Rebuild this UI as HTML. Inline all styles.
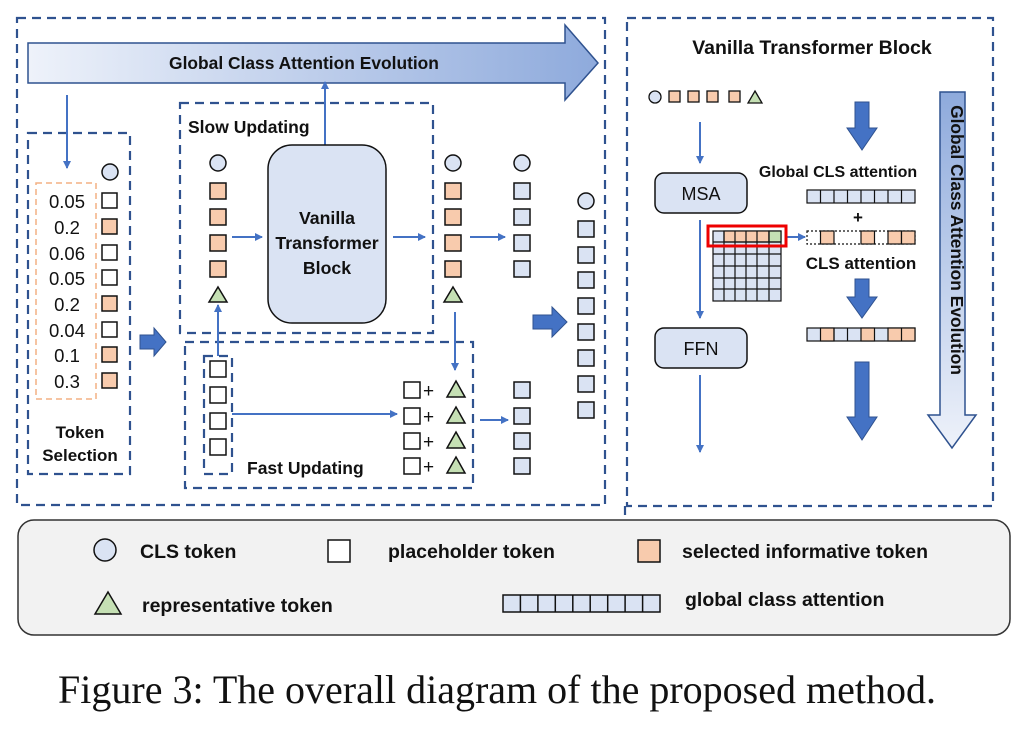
<!DOCTYPE html>
<html><head><meta charset="utf-8"><style>
body{margin:0;background:#fff;width:1024px;height:727px;overflow:hidden}
text{font-family:"Liberation Sans",sans-serif;font-weight:bold;fill:#111}
</style></head><body>
<svg width="1024" height="727" viewBox="0 0 1024 727" xmlns="http://www.w3.org/2000/svg">
<defs>
<linearGradient id="g1" x1="0" x2="1"><stop offset="0" stop-color="#eef2fa"/><stop offset="1" stop-color="#8eaadc"/></linearGradient>
<linearGradient id="g2" x1="0" y1="0" x2="0" y2="1"><stop offset="0" stop-color="#8eaadc"/><stop offset="1" stop-color="#eef2fa"/></linearGradient>
<marker id="ah" markerWidth="8" markerHeight="8" refX="7" refY="4" orient="auto" markerUnits="userSpaceOnUse"><path d="M0,0 L8,4 L0,8 z" fill="#4472c4"/></marker>
</defs>
<g fill="none" stroke="#2f528f" stroke-width="2.2" stroke-dasharray="9,6">
<rect x="17" y="18" width="588" height="487"/>
<rect x="627" y="18" width="366" height="488"/>
<rect x="28" y="133" width="102" height="341"/>
<rect x="180" y="103" width="253" height="230"/>
<rect x="185" y="342" width="288" height="146"/>
<rect x="204" y="356" width="28" height="118"/>
</g>
<line x1="625" y1="506" x2="625" y2="520" stroke="#2f528f" stroke-width="2.2" stroke-dasharray="9,6"/>
<rect x="36" y="183" width="60" height="216" fill="none" stroke="#f4b183" stroke-width="1.5" stroke-dasharray="6,4"/>
<path d="M28,43 L565,43 L565,25 L598,63 L565,100 L565,83 L28,83 z" fill="url(#g1)" stroke="#2f528f" stroke-width="1.5"/>
<text x="304" y="69" font-size="17.4" text-anchor="middle">Global Class Attention Evolution</text>
<g stroke="#4472c4" stroke-width="2" fill="none" marker-end="url(#ah)">
<line x1="67" y1="95" x2="67" y2="168"/>
<line x1="325" y1="145" x2="325" y2="82"/>
<line x1="232" y1="237" x2="262" y2="237"/>
<line x1="393" y1="237" x2="425" y2="237"/>
<line x1="470" y1="237" x2="505" y2="237"/>
<line x1="218" y1="356" x2="218" y2="305"/>
<polyline points="232,414 397,414"/>
<line x1="455" y1="312" x2="455" y2="370"/>
<line x1="480" y1="420" x2="508" y2="420"/>
<line x1="700" y1="122" x2="700" y2="163"/>
<line x1="700" y1="220" x2="700" y2="318"/>
<line x1="700" y1="375" x2="700" y2="452"/>
<line x1="787" y1="237" x2="805" y2="237"/>
</g>
<g fill="#4472c4" stroke="#2f528f" stroke-width="1">
<path d="M140,335 L154,335 L154,328 L166,342 L154,356 L154,349 L140,349 z"/>
<path d="M533,315 L552,315 L552,307 L567,322 L552,337 L552,329 L533,329 z"/>
<path d="M855,102 L869,102 L869,128 L877,128 L862,150 L847,128 L855,128 z"/>
<path d="M855,279 L869,279 L869,297 L877,297 L862,318 L847,297 L855,297 z"/>
<path d="M855,362 L869,362 L869,417 L877,417 L862,440 L847,417 L855,417 z"/>
</g>
<path d="M940,92 L965,92 L965,415 L976,415 L952,448 L928,415 L940,415 z" fill="url(#g2)" stroke="#2f528f" stroke-width="1.5"/>
<text transform="translate(951,240) rotate(90)" font-size="17.4" text-anchor="middle">Global Class Attention Evolution</text>
<g stroke="#111" stroke-width="1.5">
<circle cx="110" cy="172" r="8" fill="#dae3f3"/>
<rect x="102" y="193" width="15" height="15" fill="#fff"/>
<rect x="102" y="219" width="15" height="15" fill="#f8cbad"/>
<rect x="102" y="245" width="15" height="15" fill="#fff"/>
<rect x="102" y="270" width="15" height="15" fill="#fff"/>
<rect x="102" y="296" width="15" height="15" fill="#f8cbad"/>
<rect x="102" y="322" width="15" height="15" fill="#fff"/>
<rect x="102" y="347" width="15" height="15" fill="#f8cbad"/>
<rect x="102" y="373" width="15" height="15" fill="#f8cbad"/>
</g>
<g font-size="18.5" text-anchor="middle">
<text x="67" y="208" style="font-weight:normal">0.05</text>
<text x="67" y="234" style="font-weight:normal">0.2</text>
<text x="67" y="260" style="font-weight:normal">0.06</text>
<text x="67" y="285" style="font-weight:normal">0.05</text>
<text x="67" y="311" style="font-weight:normal">0.2</text>
<text x="67" y="337" style="font-weight:normal">0.04</text>
<text x="67" y="362" style="font-weight:normal">0.1</text>
<text x="67" y="388" style="font-weight:normal">0.3</text>
</g>
<text x="80" y="438" font-size="17" text-anchor="middle">Token</text>
<text x="80" y="461" font-size="17" text-anchor="middle">Selection</text>
<text x="188" y="133" font-size="17.5">Slow Updating</text>
<text x="247" y="474" font-size="17.5">Fast Updating</text>
<rect x="268" y="145" width="118" height="178" rx="24" fill="#dae3f3" stroke="#111" stroke-width="1.5"/>
<text x="327" y="224" font-size="17.7" text-anchor="middle">Vanilla</text>
<text x="327" y="249" font-size="17.7" text-anchor="middle">Transformer</text>
<text x="327" y="274" font-size="17.7" text-anchor="middle">Block</text>
<g stroke="#111" stroke-width="1.5">
<circle cx="218" cy="163" r="8" fill="#dae3f3"/>
<rect x="210" y="183" width="16" height="16" fill="#f8cbad"/>
<rect x="210" y="209" width="16" height="16" fill="#f8cbad"/>
<rect x="210" y="235" width="16" height="16" fill="#f8cbad"/>
<rect x="210" y="261" width="16" height="16" fill="#f8cbad"/>
<path d="M218,287 L227,302 L209,302 z" fill="#c5e0b4"/>
<circle cx="453" cy="163" r="8" fill="#dae3f3"/>
<rect x="445" y="183" width="16" height="16" fill="#f8cbad"/>
<rect x="445" y="209" width="16" height="16" fill="#f8cbad"/>
<rect x="445" y="235" width="16" height="16" fill="#f8cbad"/>
<rect x="445" y="261" width="16" height="16" fill="#f8cbad"/>
<path d="M453,287 L462,302 L444,302 z" fill="#c5e0b4"/>
<circle cx="522" cy="163" r="8" fill="#dae3f3"/>
<rect x="514" y="183" width="16" height="16" fill="#dae3f3"/>
<rect x="514" y="209" width="16" height="16" fill="#dae3f3"/>
<rect x="514" y="235" width="16" height="16" fill="#dae3f3"/>
<rect x="514" y="261" width="16" height="16" fill="#dae3f3"/>
<rect x="210" y="361" width="16" height="16" fill="#fff"/>
<rect x="210" y="387" width="16" height="16" fill="#fff"/>
<rect x="210" y="413" width="16" height="16" fill="#fff"/>
<rect x="210" y="439" width="16" height="16" fill="#fff"/>
<rect x="404" y="382" width="16" height="16" fill="#fff"/>
<rect x="404" y="408" width="16" height="16" fill="#fff"/>
<rect x="404" y="433" width="16" height="16" fill="#fff"/>
<rect x="404" y="458" width="16" height="16" fill="#fff"/>
<path d="M456,381 L465,397 L447,397 z" fill="#c5e0b4"/>
<path d="M456,407 L465,423 L447,423 z" fill="#c5e0b4"/>
<path d="M456,432 L465,448 L447,448 z" fill="#c5e0b4"/>
<path d="M456,457 L465,473 L447,473 z" fill="#c5e0b4"/>
<rect x="514" y="382" width="16" height="16" fill="#dae3f3"/>
<rect x="514" y="408" width="16" height="16" fill="#dae3f3"/>
<rect x="514" y="433" width="16" height="16" fill="#dae3f3"/>
<rect x="514" y="458" width="16" height="16" fill="#dae3f3"/>
<circle cx="586" cy="201" r="8" fill="#dae3f3"/>
<rect x="578" y="221" width="16" height="16" fill="#dae3f3"/>
<rect x="578" y="247" width="16" height="16" fill="#dae3f3"/>
<rect x="578" y="272" width="16" height="16" fill="#dae3f3"/>
<rect x="578" y="298" width="16" height="16" fill="#dae3f3"/>
<rect x="578" y="324" width="16" height="16" fill="#dae3f3"/>
<rect x="578" y="350" width="16" height="16" fill="#dae3f3"/>
<rect x="578" y="376" width="16" height="16" fill="#dae3f3"/>
<rect x="578" y="402" width="16" height="16" fill="#dae3f3"/>
</g>
<g font-size="19">
<text x="423" y="397" style="font-weight:normal">+</text>
<text x="423" y="423" style="font-weight:normal">+</text>
<text x="423" y="448" style="font-weight:normal">+</text>
<text x="423" y="473" style="font-weight:normal">+</text>
</g>
<text x="812" y="54" font-size="19.5" text-anchor="middle">Vanilla Transformer Block</text>
<g stroke="#111" stroke-width="1.3">
<circle cx="655" cy="97" r="6" fill="#dae3f3"/>
<rect x="669" y="91" width="11" height="11" fill="#f8cbad"/>
<rect x="688" y="91" width="11" height="11" fill="#f8cbad"/>
<rect x="707" y="91" width="11" height="11" fill="#f8cbad"/>
<rect x="729" y="91" width="11" height="11" fill="#f8cbad"/>
<path d="M755,91 L762,103 L748,103 z" fill="#c5e0b4"/>
</g>
<rect x="655" y="173" width="92" height="40" rx="9" fill="#dae3f3" stroke="#111" stroke-width="1.5"/>
<text x="701" y="200" font-size="18" text-anchor="middle" style="font-weight:normal">MSA</text>
<rect x="655" y="328" width="92" height="40" rx="9" fill="#dae3f3" stroke="#111" stroke-width="1.5"/>
<text x="701" y="355" font-size="18" text-anchor="middle" style="font-weight:normal">FFN</text>
<g stroke="#111" stroke-width="1.2">
<rect x="713" y="231" width="68" height="70" fill="#dae3f3"/>
<rect x="724" y="231" width="45" height="11" fill="#f8cbad"/>
<rect x="769" y="231" width="12" height="11" fill="#c5e0b4"/>
<path d="M724,231V301M735,231V301M746,231V301M757,231V301M769,231V301M713,242H781M713,254H781M713,266H781M713,278H781M713,289H781" fill="none"/>
</g>
<rect x="708" y="226" width="78" height="20" fill="none" stroke="#e00" stroke-width="3"/>
<text x="838" y="177" font-size="16" text-anchor="middle">Global CLS attention</text>
<text x="858" y="223" font-size="17" text-anchor="middle">+</text>
<text x="861" y="269" font-size="17" text-anchor="middle">CLS attention</text>
<g stroke="#111" stroke-width="1.2">
<rect x="807" y="190" width="108" height="13" fill="#dae3f3"/>
<path d="M820.5,190V203M834,190V203M847.5,190V203M861,190V203M874.5,190V203M888,190V203M901.5,190V203" fill="none"/>
<rect x="807" y="328" width="108" height="13" fill="#dae3f3"/>
<rect x="820.5" y="328" width="13.5" height="13" fill="#f8cbad"/>
<rect x="861" y="328" width="13.5" height="13" fill="#f8cbad"/>
<rect x="888" y="328" width="27" height="13" fill="#f8cbad"/>
<path d="M834,328V341M847.5,328V341M901.5,328V341" fill="none"/>
<rect x="807" y="231" width="108" height="13" fill="none" stroke-dasharray="2,2"/>
<rect x="820.5" y="231" width="13.5" height="13" fill="#f8cbad"/>
<rect x="861" y="231" width="13.5" height="13" fill="#f8cbad"/>
<rect x="888" y="231" width="13.5" height="13" fill="#f8cbad"/>
<rect x="901.5" y="231" width="13.5" height="13" fill="#f8cbad"/>
</g>
<rect x="18" y="520" width="992" height="115" rx="16" fill="#f2f2f2" stroke="#333" stroke-width="1.5"/>
<g stroke="#111" stroke-width="1.5">
<circle cx="105" cy="550" r="11" fill="#dae3f3"/>
<rect x="328" y="540" width="22" height="22" fill="#fff"/>
<rect x="638" y="540" width="22" height="22" fill="#f8cbad"/>
<path d="M108,592 L121,614 L95,614 z" fill="#c5e0b4"/>
<rect x="503" y="595" width="157" height="17" fill="#dae3f3"/>
<path d="M520.4,595V612M537.9,595V612M555.3,595V612M572.8,595V612M590.2,595V612M607.7,595V612M625.1,595V612M642.6,595V612" fill="none"/>
</g>
<text x="140" y="558" font-size="19.5">CLS token</text>
<text x="388" y="558" font-size="19.5">placeholder token</text>
<text x="682" y="558" font-size="19.5">selected informative token</text>
<text x="142" y="612" font-size="19.5">representative token</text>
<text x="685" y="606" font-size="19.5">global class attention</text>
<text x="497" y="703" font-size="40" text-anchor="middle" style="font-family:'Liberation Serif',serif;font-weight:normal">Figure 3: The overall diagram of the proposed method.</text>
</svg>
</body></html>
